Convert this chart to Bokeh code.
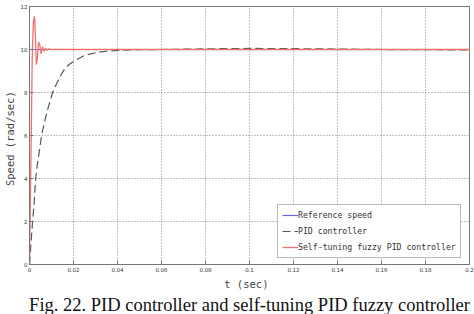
from bokeh.plotting import figure
from bokeh.models import FixedTicker, Legend, LegendItem, Range1d, Title
from bokeh.embed import file_html
from bokeh.resources import INLINE

# ---- data ----
ref_t = [0.0, 0.2]
ref_v = [10.0, 10.0]

pid_t = [0.0, 0.0007, 0.0014, 0.002, 0.0028, 0.0035, 0.0045, 0.0055, 0.007, 0.0085,
         0.0105, 0.0125, 0.0145, 0.016, 0.018, 0.02, 0.025, 0.03, 0.035, 0.04,
         0.05, 0.06, 0.08, 0.1, 0.12, 0.14, 0.16, 0.18, 0.2]
pid_v = [0.0, 1.0, 2.0, 2.7, 4.0, 4.6, 5.3, 6.0, 6.7, 7.3,
         8.0, 8.45, 8.85, 9.1, 9.3, 9.45, 9.72, 9.85, 9.92, 9.96,
         9.99, 10.0, 10.03, 10.05, 10.04, 10.02, 10.0, 9.99, 9.98]

fuzzy_t = [0.0, 0.0006, 0.0013, 0.0018, 0.0023, 0.0027, 0.0031, 0.0036, 0.0041,
           0.0047, 0.0053, 0.0059, 0.0066, 0.0073, 0.008, 0.0088, 0.0095, 0.2]
fuzzy_v = [0.0, 4.5, 10.0, 11.3, 11.55, 10.6, 9.3, 9.6, 10.35,
           10.2, 9.8, 10.12, 9.92, 10.06, 9.96, 10.03, 10.0, 10.0]

x_ticks = [0.0, 0.02, 0.04, 0.06, 0.08, 0.1, 0.12, 0.14, 0.16, 0.18, 0.2]
x_tick_labels = ["0", "0.02", "0.04", "0.06", "0.08", "0.1", "0.12", "0.14", "0.16", "0.18", "0.2"]
y_ticks = [0, 2, 4, 6, 8, 10, 12]
y_tick_labels = ["0", "2", "4", "6", "8", "10", "12"]

series_names = ["Reference speed", "PID controller", "Self-tuning fuzzy PID controller"]
x_label = "t  (sec)"
y_label = "Speed  (rad/sec)"
caption = "Fig. 22. PID controller and self-tuning PID fuzzy controller"

# ---- figure ----
p = figure(width=474, height=314, output_backend="svg", toolbar_location=None,
           x_range=Range1d(0, 0.2), y_range=Range1d(0, 12))
p.min_border_left = 27
p.min_border_right = 5
p.min_border_top = 6
p.min_border_bottom = 20
p.background_fill_color = "white"
p.border_fill_color = "white"
p.outline_line_color = "#777777"
p.outline_line_width = 1

p.xaxis.ticker = FixedTicker(ticks=x_ticks)
p.yaxis.ticker = FixedTicker(ticks=y_ticks)
p.xaxis.major_label_overrides = {t: l for t, l in zip(x_ticks, x_tick_labels)}
p.yaxis.major_label_overrides = {t: l for t, l in zip(y_ticks, y_tick_labels)}

for ax in (p.xaxis, p.yaxis):
    ax.axis_line_color = "#777777"
    ax.major_tick_line_color = "#777777"
    ax.major_tick_in = 4
    ax.major_tick_out = 0
    ax.minor_tick_line_color = None
    ax.major_label_text_font = "DejaVu Sans"
    ax.major_label_text_font_size = "5.5px"
    ax.major_label_text_color = "#333333"
    ax.major_label_standoff = 2
    ax.axis_label_text_font = "DejaVu Sans Mono"
    ax.axis_label_text_font_style = "normal"
    ax.axis_label_text_font_size = "10.5px"
    ax.axis_label_text_color = "#444444"

p.xaxis.axis_label = x_label
p.yaxis.axis_label = y_label
p.xaxis.axis_label_standoff = 3
p.yaxis.axis_label_standoff = 2

p.xgrid.ticker = FixedTicker(ticks=x_ticks)
p.ygrid.ticker = FixedTicker(ticks=y_ticks)
for g in (p.xgrid, p.ygrid):
    g.grid_line_color = "#666666"
    g.grid_line_dash = "1 2"
    g.grid_line_width = 1
    g.grid_line_alpha = 0.8

r_ref = p.line(ref_t, ref_v, line_color="#6666ee", line_width=1.2)
r_pid = p.line(pid_t, pid_v, line_color="#555555", line_width=1.2, line_dash="8 4")
r_fz = p.line(fuzzy_t, fuzzy_v, line_color="#f07070", line_width=1.3)

legend = Legend(items=[LegendItem(label=series_names[0], renderers=[r_ref]),
                       LegendItem(label=series_names[1], renderers=[r_pid]),
                       LegendItem(label=series_names[2], renderers=[r_fz])],
                location=(248, 6))
legend.label_text_font = "DejaVu Sans Mono"
legend.label_text_font_size = "8.2px"
legend.label_text_color = "#333333"
legend.glyph_width = 16
legend.glyph_height = 10
legend.label_standoff = 0
legend.spacing = 4
legend.padding = 4
legend.margin = 0
legend.label_height = 12
legend.border_line_color = "#777777"
legend.border_line_width = 1
legend.background_fill_color = "white"
legend.background_fill_alpha = 1
p.add_layout(legend, "center")

cap = Title(text=caption, align="center", text_font="Liberation Serif",
            text_font_size="18.5px", text_font_style="normal", text_color="#111111",
            standoff=0, offset=0)
p.add_layout(cap, "below")

open("out.html", "w").write(file_html(p, INLINE))
